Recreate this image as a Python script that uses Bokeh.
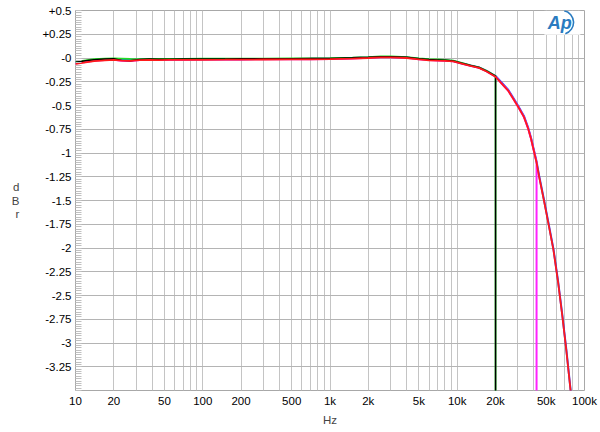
from bokeh.plotting import figure
from bokeh.models import FixedTicker, Label, Range1d
from bokeh.embed import file_html
from bokeh.resources import INLINE

# ---- data ----
freq = [10, 12, 14, 17, 20, 23, 27, 32, 38, 45, 55, 70, 100, 150, 200, 300, 500,
        700, 1000, 1500, 2000, 2500, 3000, 4000, 5000, 6000, 7000, 8000, 9300,
        11000, 12700, 14800, 17000, 20000]
green_db = [-0.040, -0.025, -0.013, -0.007, -0.004, -0.006, -0.010, -0.012, -0.009,
            -0.010, -0.010, -0.009, -0.008, -0.008, -0.007, -0.006, -0.005, -0.004,
            -0.002, 0.004, 0.010, 0.016, 0.016, 0.010, -0.004, -0.012, -0.016,
            -0.020, -0.028, -0.055, -0.078, -0.098, -0.135, -0.190]
black_db = [-0.045, -0.030, -0.018, -0.010, -0.008, -0.025, -0.030, -0.015, -0.010,
            -0.012, -0.012, -0.010, -0.010, -0.010, -0.009, -0.008, -0.007, -0.006,
            -0.004, 0.002, 0.008, 0.014, 0.014, 0.008, -0.008, -0.016, -0.020,
            -0.024, -0.032, -0.058, -0.080, -0.100, -0.138, -0.192]
red_db = [-0.062, -0.045, -0.032, -0.024, -0.020, -0.028, -0.030, -0.022, -0.020,
          -0.022, -0.020, -0.020, -0.019, -0.018, -0.017, -0.016, -0.015, -0.014,
          -0.012, -0.006, 0.000, 0.006, 0.006, 0.000, -0.015, -0.025, -0.028,
          -0.030, -0.036, -0.062, -0.084, -0.104, -0.142, -0.198]
magenta_db = [-0.058, -0.042, -0.030, -0.022, -0.018, -0.030, -0.032, -0.020, -0.018,
              -0.020, -0.019, -0.018, -0.017, -0.016, -0.015, -0.014, -0.013, -0.012,
              -0.010, -0.004, 0.002, 0.008, 0.008, 0.002, -0.012, -0.022, -0.026,
              -0.028, -0.034, -0.060, -0.082, -0.102, -0.140, -0.196]
blue_db = [-0.050, -0.034, -0.022, -0.014, -0.010, -0.014, -0.018, -0.016, -0.014,
           -0.015, -0.015, -0.014, -0.013, -0.013, -0.012, -0.011, -0.010, -0.009,
           -0.007, -0.001, 0.005, 0.011, 0.011, 0.005, -0.009, -0.018, -0.022,
           -0.025, -0.032, -0.057, -0.079, -0.099, -0.136, -0.190]

ext_freq = [22000, 25000, 27000, 30000, 33400, 36000, 38000, 42000, 44000, 48000,
            52000, 57000, 62000, 67000, 72000, 78000]
red_ext_db = [-0.26, -0.34, -0.41, -0.51, -0.62, -0.74, -0.85, -1.10, -1.25, -1.50,
              -1.74, -2.02, -2.36, -2.72, -3.08, -3.52]
blue_ext_db = [-0.25, -0.33, -0.40, -0.50, -0.61, -0.73, -0.84, -1.09, -1.24, -1.49,
               -1.73, -2.01, -2.35, -2.71, -3.07, -3.51]

cut_44k = 20000      # brick-wall drop of the green/black traces
cut_96k = 42000      # drop of the magenta trace
floor_db = -4.0

y_ticks = [0.5, 0.25, 0, -0.25, -0.5, -0.75, -1, -1.25, -1.5, -1.75, -2, -2.25,
           -2.5, -2.75, -3, -3.25]
y_labels = ["+0.5", "+0.25", "-0", "-0.25", "-0.5", "-0.75", "-1", "-1.25", "-1.5",
            "-1.75", "-2", "-2.25", "-2.5", "-2.75", "-3", "-3.25"]
x_ticks = [10, 20, 50, 100, 200, 500, 1000, 2000, 5000, 10000, 20000, 50000, 100000]
x_labels = ["10", "20", "50", "100", "200", "500", "1k", "2k", "5k", "10k", "20k",
            "50k", "100k"]

FONT = "Liberation Sans"
LOGO_BLUE = "#2a7bc0"

p = figure(width=598, height=430, x_axis_type="log", output_backend="svg",
           toolbar_location=None, x_range=Range1d(10, 100000),
           y_range=Range1d(-3.5, 0.5),
           min_border_left=75, min_border_right=14, min_border_top=10,
           min_border_bottom=40)
p.background_fill_color = "white"
p.border_fill_color = "white"
p.outline_line_color = "#a8a8a8"
p.outline_line_width = 1

# grids
grid_x = []
for dec in [10, 100, 1000, 10000]:
    for m in range(1, 10):
        grid_x.append(dec * m)
grid_x.append(100000)
p.xgrid[0].ticker = FixedTicker(ticks=grid_x)
p.xgrid[0].grid_line_color = "#c4c4c4"
p.xgrid[0].grid_line_width = 1
minor_y = [round(-3.5 + 0.025 * i, 3) for i in range(161)]
p.yaxis[0].ticker = FixedTicker(ticks=y_ticks, minor_ticks=minor_y)
p.ygrid[0].ticker = FixedTicker(ticks=y_ticks)
p.ygrid[0].grid_line_color = "#b4b4b4"
p.ygrid[0].grid_line_width = 1

p.xaxis[0].ticker = FixedTicker(ticks=x_ticks)
p.xaxis[0].major_label_overrides = {t: l for t, l in zip(x_ticks, x_labels)}
p.yaxis[0].major_label_overrides = {t: l for t, l in zip(y_ticks, y_labels)}

for ax in (p.xaxis[0], p.yaxis[0]):
    ax.axis_line_color = None
    ax.major_tick_out = 0
    ax.major_tick_in = 0
    ax.major_label_text_font = FONT
    ax.major_label_text_font_size = "11.5px"
    ax.major_label_text_color = "black"
    ax.major_label_standoff = 4
p.xaxis[0].minor_tick_line_color = None
p.yaxis[0].minor_tick_in = 6
p.yaxis[0].minor_tick_out = 0
p.yaxis[0].minor_tick_line_color = "#c0c0c0"

p.xaxis[0].axis_label = "Hz"
p.xaxis[0].axis_label_text_font = FONT
p.xaxis[0].axis_label_text_font_size = "11.5px"
p.xaxis[0].axis_label_text_font_style = "normal"
p.xaxis[0].axis_label_standoff = 4

# "dBr" stacked axis label
p.yaxis[0].axis_label = "d\nB\nr"
p.yaxis[0].axis_label_text_font = FONT
p.yaxis[0].axis_label_text_font_size = "11.5px"
p.yaxis[0].axis_label_text_font_style = "normal"
p.yaxis[0].axis_label_standoff = 20
p.yaxis[0].axis_label_text_line_height = 1.15
try:
    p.yaxis[0].axis_label_orientation = "horizontal"
except Exception:
    pass

# traces
f_full = freq + ext_freq
p.line(f_full, blue_db + blue_ext_db, line_color="#3040ff", line_width=2)
mag_f = freq + [f for f in ext_freq if f <= cut_96k] + [cut_96k]
mag_y = magenta_db + [d for f, d in zip(ext_freq, red_ext_db) if f <= cut_96k] + [floor_db]
p.line(mag_f, mag_y, line_color="#ff22ff", line_width=2)
p.line(freq + [cut_44k], green_db + [floor_db], line_color="#22dd22", line_width=1.8)
p.line(freq + [cut_44k], black_db + [floor_db], line_color="black", line_width=1.5)
p.line(f_full, red_db + red_ext_db, line_color="#ff1a1a", line_width=1.8)

# Ap logo (white patch, arc, text)
p.rect(x=[67000], y=[0.37], width=36, height=24, width_units="screen",
       height_units="screen", fill_color="white", line_color=None)
p.arc(x=[66000], y=[0.375], radius=12, radius_units="screen",
      start_angle=-1.25, end_angle=1.35, line_color=LOGO_BLUE, line_width=1.6)
p.add_layout(Label(x=64000, y=0.37, text="Ap", text_font=FONT,
                   text_font_size="18px", text_font_style="bold italic",
                   text_color=LOGO_BLUE, text_align="center",
                   text_baseline="middle"))

open("out.html", "w").write(file_html(p, INLINE))
